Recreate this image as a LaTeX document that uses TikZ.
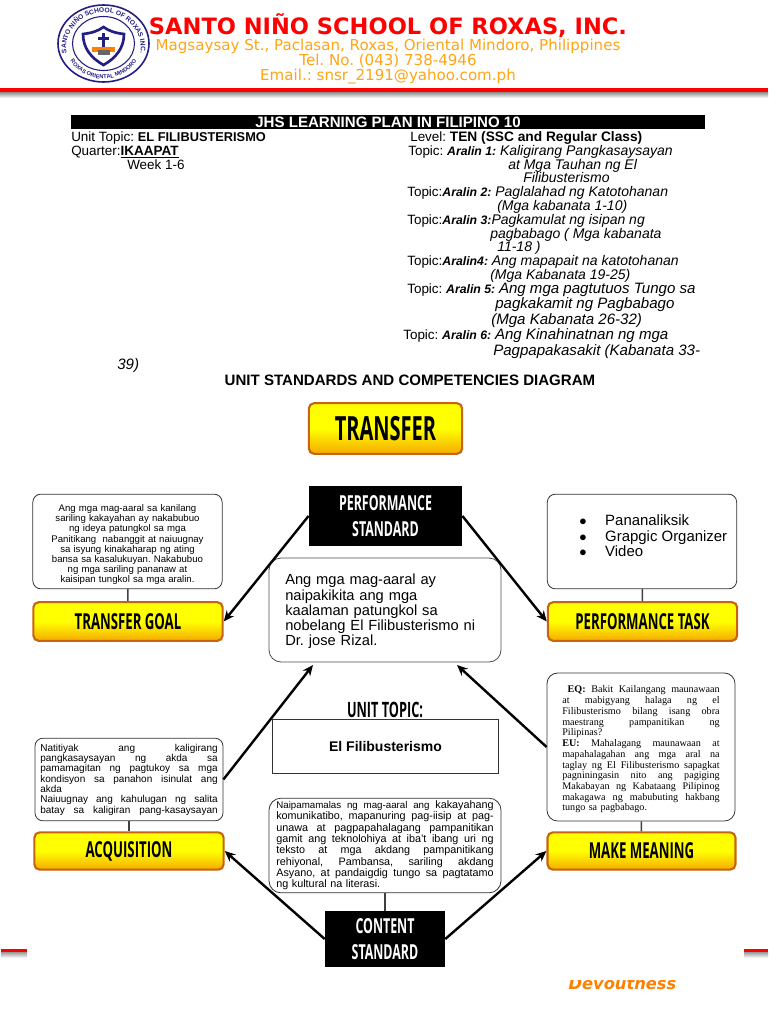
\documentclass[tikz,border=0pt]{standalone}
\usepackage{fontspec}
\setmainfont{Liberation Sans}
\newfontfamily\headfont{DejaVu Sans}
\newfontfamily\bookfont{Liberation Serif}
\newfontfamily\tagfont[FakeStretch=0.6]{Open Sans}
\usetikzlibrary{arrows.meta,decorations.text}
\definecolor{tagline}{RGB}{255,165,20}
\definecolor{tagedge}{RGB}{200,100,15}
\definecolor{tagfoot}{RGB}{245,170,0}
\definecolor{schoolblue}{RGB}{35,30,130}
\newcommand{\jline}[1]{\leavevmode\hbox to \jlwidth{\spaceskip=0.28em plus 1fil\relax #1}\\}
\newcommand{\bigit}{\itshape\fontsize{11.3}{13}\selectfont}
\newcommand{\planit}{\itshape\fontsize{10.5}{12}\selectfont}
\newcommand{\aralin}[1]{{\bfseries\itshape\fontsize{9.2}{12}\selectfont #1}}
\tikzset{
  plan/.style={anchor=base west,font=\fontsize{10.1}{12}\selectfont,inner sep=0pt},
  tagbox/.style={draw=tagedge,line width=1.6pt,rounded corners=4pt,top color=yellow,
    bottom color=tagfoot,middle color=yellow,font=\tagfont\bfseries\fontsize{16.5}{18}\selectfont},
  blackbox/.style={fill=black,text=white,align=center,font=\tagfont\bfseries\fontsize{15.5}{19.5}\selectfont},
  textbox/.style={draw=black!80,line width=0.6pt,rounded corners=6pt,inner sep=0pt},
  link/.style={draw=black!75,line width=1.1pt},
  flow/.style={draw=black,line width=1.8pt,-{Stealth[length=8pt,width=7pt]}}
}
\frenchspacing
\begin{document}
\begin{tikzpicture}[x=0.75pt,y=-0.75pt]
  \useasboundingbox (0,0) rectangle (768,1024);
  % Header lines
  \shade[top color=black!45,bottom color=white] (0,92) rectangle (768,98);
  \fill[red] (0,88) rectangle (768,92);
  \shade[top color=black!40,bottom color=white] (1,952) rectangle (27,958);
  \fill[red] (1,949) rectangle (27,952);
  \shade[top color=black!40,bottom color=white] (744,952) rectangle (768,958);
  \fill[red] (744,949) rectangle (768,952);

  % Logo
  \draw[schoolblue,line width=1.2pt] (103.5,43.5) ellipse (45.5 and 38.5);
  \draw[schoolblue,line width=0.8pt] (103.5,43.5) ellipse (31 and 27);
  \path[postaction={decorate,decoration={text along path,text align=center,
      text={|\fontsize{5}{6}\bfseries\color{schoolblue}|SANTO NIÑO SCHOOL OF ROXAS INC.}}}]
    (67,55) .. controls (62,30) and (84,12.5) .. (103.5,12.5) .. controls (123,12.5) and (145,30) .. (140,55);
  \path[postaction={decorate,decoration={text along path,text align=center,
      text={|\fontsize{4.2}{5}\bfseries\color{schoolblue}|ROXAS ORIENTAL MINDORO}}}]
    (70,60) .. controls (85,85) and (122,85) .. (137,60);
  \draw[schoolblue,line width=2pt,fill=white] (83,34) .. controls (92,33) and (98,31) .. (103.5,27)
    .. controls (109,31) and (115,33) .. (124,34) .. controls (124,48) and (116,58) .. (103.5,65)
    .. controls (91,58) and (83,48) .. (83,34) -- cycle;
  \fill[orange] (92,47) rectangle (115,52);
  \fill[schoolblue] (102,33) rectangle (105,47);
  \fill[schoolblue] (98,37) rectangle (109,40);
  \fill[black!60] (98,50) rectangle (110,55);

  % Header text
  \node[font=\headfont\bfseries\fontsize{16.9}{20}\selectfont,text=red] (schoolname) at (388,26) {SANTO NIÑO SCHOOL OF ROXAS, INC.};
  \node[font=\headfont\fontsize{11.3}{13}\selectfont,text=tagline] (address) at (388,46.5) {Magsaysay St., Paclasan, Roxas, Oriental Mindoro, Philippines};
  \node[font=\headfont\fontsize{11.3}{13}\selectfont,text=tagline] (telno) at (388,61) {Tel. No. (043) 738-4946};
  \node[font=\headfont\fontsize{11.3}{13}\selectfont,text=tagline] (email) at (388,77) {Email.: snsr\_2191@yahoo.com.ph};

  % Plan
  \fill[black] (71,115) rectangle (705,129);
  \node[text=white,font=\bfseries\fontsize{11.3}{13}\selectfont] (plantitle) at (388,122) {JHS LEARNING PLAN IN FILIPINO 10};
  \node[plan] (unittopic) at (71,141) {Unit Topic: {\bfseries\fontsize{9.6}{12}\selectfont EL FILIBUSTERISMO}};
  \node[plan] (quarter) at (71,155) {Quarter:{\bfseries\underline{IKAAPAT}}};
  \node[plan] (week) at (127,169) {Week 1-6};
  \node[plan] (level) at (410,141) {Level: {\bfseries\fontsize{10.3}{12}\selectfont TEN (SSC and Regular Class)}};
  \node[plan] (aralina) at (408,155) {Topic: \aralin{Aralin 1:} {\planit Kaligirang Pangkasaysayan}};
  \node[plan,font=\planit] (aralinab) at (508,169) {at Mga Tauhan ng El};
  \node[plan,font=\planit] (aralinac) at (523,182) {Filibusterismo};
  \node[plan] (aralinb) at (407,196) {Topic:\aralin{Aralin 2:} {\planit Paglalahad ng Katotohanan}};
  \node[plan,font=\planit] (aralinbb) at (497,210) {(Mga kabanata 1-10)};
  \node[plan] (aralinc) at (407,224) {Topic:\aralin{Aralin 3:}{\planit Pagkamulat ng isipan ng}};
  \node[plan,font=\planit] (aralincb) at (490,238) {pagbabago ( Mga kabanata};
  \node[plan,font=\planit] (aralincc) at (497,251) {11-18 )};
  \node[plan] (aralind) at (407,265) {Topic:\aralin{Aralin4:} {\planit Ang mapapait na katotohanan}};
  \node[plan,font=\planit] (aralindb) at (490,279) {(Mga Kabanata 19-25)};
  \node[plan] (aralinee) at (407,293) {Topic: \aralin{Aralin 5:} {\bigit Ang mga pagtutuos Tungo sa}};
  \node[plan,font=\bigit] (alineb) at (495,308) {pagkakamit ng Pagbabago};
  \node[plan,font=\bigit] (alinec) at (491,324) {(Mga Kabanata 26-32)};
  \node[plan] (aralinf) at (403,339) {Topic: \aralin{Aralin 6:} {\bigit Ang Kinahinatnan ng mga}};
  \node[plan,font=\bigit] (alinfb) at (493,355) {Pagpapakasakit (Kabanata 33-};
  \node[plan,font=\bigit] (alinfc) at (117,369) {39)};
  \node[font=\bfseries\fontsize{11.3}{13}\selectfont] (diagramtitle) at (410,380) {UNIT STANDARDS AND COMPETENCIES DIAGRAM};

  % Yellow boxes
  \node[tagbox,minimum width=115pt,minimum height=38pt,font=\tagfont\bfseries\fontsize{25}{27}\selectfont] (transfer) at (385.5,428.5) {TRANSFER};
  \node[tagbox,minimum width=142pt,minimum height=29pt] (transfergoal) at (128,621.5) {TRANSFER GOAL};
  \node[tagbox,minimum width=142pt,minimum height=29pt] (perftask) at (642.5,621.5) {PERFORMANCE TASK};
  \node[tagbox,minimum width=142pt,minimum height=28pt] (acquisition) at (129,851) {ACQUISITION};
  \node[tagbox,minimum width=141pt,minimum height=28pt] (makemeaning) at (641.5,851) {MAKE MEANING};

  % Black boxes
  \node[blackbox,minimum width=115pt,minimum height=45pt] (perfstandard) at (385.5,516) {PERFORMANCE\\STANDARD};
  \node[blackbox,minimum width=90pt,minimum height=42pt] (contentstandard) at (385,939) {CONTENT\\STANDARD};

  % Text boxes
  \node[textbox,minimum width=142pt,minimum height=71pt,text width=135pt,align=center,font=\fontsize{7.2}{7.6}\selectfont] (goaltext) at (127.5,541.5) {\rule{0pt}{10pt}Ang mga mag-aaral sa kanilang\\sariling kakayahan ay nakabubuo\\ng ideya patungkol sa mga\\Panitikang\ \ nabanggit at naiuugnay\\sa isyung kinakaharap ng ating\\bansa sa kasalukuyan. Nakabubuo\\ng mga sariling pananaw at\\kaisipan tungkol sa mga aralin.};
  \node[textbox,minimum width=142pt,minimum height=71pt] (tasktext) at (642,541.5) {};
  \node[anchor=west,font=\fontsize{11.2}{11.6}\selectfont,inner sep=0pt] (tasklist) at (579,538) {%
    \begin{tabular}{@{}l@{\hspace{14pt}}l@{}}
      $\bullet$ & Pananaliksik\\ $\bullet$ & Grapgic Organizer\\ $\bullet$ & Video
    \end{tabular}};
  \node[textbox,draw=black!70,rounded corners=9pt,minimum width=174pt,minimum height=78pt] (centerbox) at (385,610) {};
  \node[anchor=north west,inner sep=0pt,text width=165pt,font=\fontsize{11}{11.4}\selectfont] (centertext) at (285,574) {Ang mga mag-aaral ay\\naipakikita ang mga\\kaalaman patungkol sa\\nobelang El Filibusterismo ni\\Dr. jose Rizal.};
  \node[textbox,minimum width=141pt,minimum height=62pt,text width=133pt,font=\fontsize{7.5}{7.75}\selectfont] (acqtext) at (129,779.5) {\def\jlwidth{133pt}\jline{Natitiyak ang kaligirang}\jline{pangkasaysayan ng akda sa}\jline{pamamagitan ng pagtukoy sa mga}\jline{kondisyon sa panahon isinulat ang}akda\\\jline{Naiuugnay ang kahulugan ng salita}\leavevmode\hbox to \jlwidth{\spaceskip=0.28em plus 1fil\relax batay sa kaligiran pang-kasaysayan}};
  \node[draw=black!80,line width=0.6pt,minimum width=169pt,minimum height=40.5pt,font=\bfseries\fontsize{10.5}{12}\selectfont] (topicbox) at (385.5,746) {El Filibusterismo};
  \node[font=\tagfont\bfseries\fontsize{15.9}{18}\selectfont] (topiclabel) at (385,710) {UNIT TOPIC:};
  \node[textbox,rounded corners=9pt,minimum width=174pt,minimum height=71pt,text width=163pt,font=\fontsize{8.1}{8.5}\selectfont] (contenttext) at (385,845.5) {\def\jlwidth{163pt}\jline{{\fontsize{7.3}{8}\selectfont Naipamamalas ng mag-aaral ang} kakayahang}\jline{komunikatibo, mapanuring pag-iisip at pag-}\jline{unawa at pagpapahalagang pampanitikan}\jline{gamit ang teknolohiya at iba't ibang uri ng}\jline{teksto at mga akdang pampanitikang}\jline{rehiyonal, Pambansa, sariling akdang}\jline{Asyano, at pandaigdig tungo sa pagtatamo}ng kultural na literasi.};
  \node[textbox,rounded corners=8pt,minimum width=141pt,minimum height=111pt,text width=118pt,font=\bookfont\fontsize{7.6}{8.05}\selectfont] (meaningtext) at (641,747) {\def\jlwidth{118pt}\jline{\rule{0pt}{9pt}\hspace{4pt}\textbf{EQ:} Bakit Kailangang maunawaan}\jline{at mabigyang halaga ng el}\jline{Filibusterismo bilang isang obra}\jline{maestrang pampanitikan ng}Pilipinas?\\\jline{\textbf{EU:} Mahalagang maunawaan at}\jline{mapahalagahan ang mga aral na}\jline{taglay ng El Filibusterismo sapagkat}\jline{pagniningasin nito ang pagiging}\jline{Makabayan ng Kabataang Pilipinog}\jline{makagawa ng mabubuting hakbang}tungo sa pagbabago.};

  % Short links
  \draw[link] (goaltext) -- (transfergoal);
  \draw[link] (tasktext) -- (perftask);
  \draw[link] (acqtext) -- (acquisition);
  \draw[link] (meaningtext) -- (makemeaning);
  \draw[link] (contenttext) -- (contentstandard);

  % Arrows
  \coordinate (centerleft) at (313,665);
  \coordinate (centerright) at (457,665);
  \draw[flow] (perfstandard.west) -- (transfergoal.east);
  \draw[flow] (perfstandard.east) -- (perftask.west);
  \draw[flow] (acqtext.east) -- (centerleft);
  \draw[flow] (meaningtext.west) -- (centerright);
  \draw[flow] (contentstandard.west) -- (acquisition.east);
  \draw[flow] (contentstandard.east) -- (makemeaning.west);

  % Cut text at the bottom
  \begin{scope}
    \clip (540,980) rectangle (700,1000);
    \node[anchor=base,text=orange,font=\headfont\bfseries\itshape\fontsize{12.2}{14}\selectfont] (devout) at (622.5,989) {Devoutness};
  \end{scope}
\end{tikzpicture}
\end{document}
